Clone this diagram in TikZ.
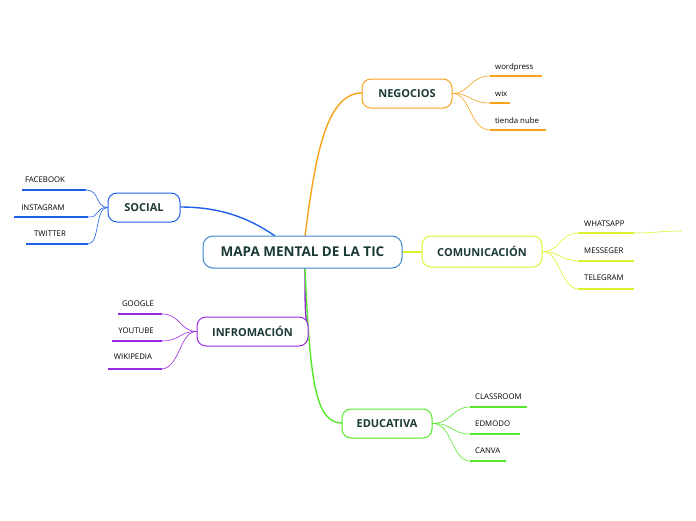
\documentclass[tikz,border=0pt]{standalone}
\usepackage{fontspec}
\setmainfont{Open Sans}
\definecolor{txt}{HTML}{1B3A36}
\definecolor{cneg}{HTML}{F7A21B}
\definecolor{csoc}{HTML}{2060E8}
\definecolor{ccom}{HTML}{DDF22E}
\definecolor{cinf}{HTML}{9A28E0}
\definecolor{cedu}{HTML}{55E82A}
\definecolor{ccen}{HTML}{3A86D0}
\begin{document}
\begin{tikzpicture}[x=1pt,y=-1pt,
  topic/.style={draw=#1,line width=1pt,rounded corners=9pt,fill=white,text=txt,font=\fontsize{11}{13}\selectfont\bfseries,inner sep=0pt},
  leaf/.style={font=\fontsize{7.8}{9}\selectfont,text=black,inner sep=0pt},
  br/.style={draw=#1,line width=1.4pt},
  tw/.style={draw=#1,line width=0.6pt},
  ul/.style={draw=#1,line width=1.4pt}]
\useasboundingbox (0,0) rectangle (696,520);
% branches
\draw[br=cneg] (305,236) .. controls (315,160) and (325,93) .. (362,93);
\draw[br=csoc] (275,236) .. controls (245,215) and (215,207) .. (180,207);
\draw[br=cinf] (305,268) .. controls (305,300) and (305,320) .. (308,331);
\draw[br=cedu] (305,268) .. controls (310,380) and (315,423) .. (342,423);
\draw[br=ccom] (402,252) -- (422,252);
% center
\node[draw=ccen,line width=1pt,rounded corners=10pt,fill=white,text=txt,minimum width=199pt,minimum height=32pt,font=\fontsize{13.5}{15}\selectfont\bfseries] (c) at (302.5,252) {MAPA MENTAL DE LA TIC};
% topics
\node[topic=cneg,minimum width=90pt,minimum height=29pt] (neg) at (407,93.5) {NEGOCIOS};
\node[topic=csoc,minimum width=72pt,minimum height=29pt] (soc) at (144,207.5) {SOCIAL};
\node[topic=ccom,minimum width=120pt,minimum height=31pt] (com) at (482,251.5) {COMUNICACIÓN};
\node[topic=cinf,minimum width=111pt,minimum height=29pt] (inf) at (252.5,331.5) {INFROMACIÓN};
\node[topic=cedu,minimum width=90pt,minimum height=29pt] (edu) at (387,423.5) {EDUCATIVA};
% negocios leaves
\coordinate (n1a) at (490,76);\coordinate (n1b) at (542,76);
\coordinate (n2a) at (490,103);\coordinate (n2b) at (510,103);
\coordinate (n3a) at (490,130);\coordinate (n3b) at (546,130);
\foreach \a/\b/\t/\y in {n1a/n1b/wordpress/67,n2a/n2b/wix/94,n3a/n3b/tienda nube/121}{
  \draw[tw=cneg] (neg.east) .. controls (470,93) and (470,\y+9) .. (\a);
  \draw[ul=cneg] (\a) -- (\b);
  \node[leaf,anchor=west] at (495,\y) {\t};}
% social leaves
\coordinate (s1a) at (86,190);\coordinate (s1b) at (22,190);
\coordinate (s2a) at (88,217);\coordinate (s2b) at (14,217);
\coordinate (s3a) at (88,244);\coordinate (s3b) at (26,244);
\foreach \a/\b/\t/\y/\x in {s1a/s1b/FACEBOOK/180/45,s2a/s2b/INSTAGRAM/208/43,s3a/s3b/TWITTER/234/50}{
  \draw[tw=csoc] (soc.west) .. controls (95,207) and (100,\y+10) .. (\a);
  \draw[ul=csoc] (\a) -- (\b);
  \node[leaf] at (\x,\y) {\t};}
% comunicacion leaves
\coordinate (c1a) at (578,233);\coordinate (c1b) at (634,233);
\coordinate (c2a) at (578,261);\coordinate (c2b) at (634,261);
\coordinate (c3a) at (578,289);\coordinate (c3b) at (634,289);
\coordinate (wx) at (682,231);
\foreach \a/\b/\t/\y in {c1a/c1b/WHATSAPP/224,c2a/c2b/MESSEGER/251,c3a/c3b/TELEGRAM/278}{
  \draw[tw=ccom] (com.east) .. controls (560,252) and (560,\y+9) .. (\a);
  \draw[ul=ccom] (\a) -- (\b);
  \node[leaf,anchor=west] at (584,\y) {\t};}
\draw[tw=ccom] (c1b) .. controls (655,233) and (660,231) .. (wx);
% informacion leaves
\coordinate (i1a) at (162,314);\coordinate (i1b) at (118,314);
\coordinate (i2a) at (162,341);\coordinate (i2b) at (112,341);
\coordinate (i3a) at (162,369);\coordinate (i3b) at (108,369);
\foreach \a/\b/\t/\y/\x in {i1a/i1b/GOOGLE/304/138,i2a/i2b/YOUTUBE/331/136,i3a/i3b/WIKIPEDIA/357/133}{
  \draw[tw=cinf] (inf.west) .. controls (180,331) and (180,\y+10) .. (\a);
  \draw[ul=cinf] (\a) -- (\b);
  \node[leaf] at (\x,\y) {\t};}
% educativa leaves
\coordinate (e1a) at (470,407);\coordinate (e1b) at (527,407);
\coordinate (e2a) at (470,434);\coordinate (e2b) at (520,434);
\coordinate (e3a) at (470,461);\coordinate (e3b) at (506,461);
\foreach \a/\b/\t/\y in {e1a/e1b/CLASSROOM/397,e2a/e2b/EDMODO/424,e3a/e3b/CANVA/451}{
  \draw[tw=cedu] (edu.east) .. controls (452,423) and (452,\y+10) .. (\a);
  \draw[ul=cedu] (\a) -- (\b);
  \node[leaf,anchor=west] at (475,\y) {\t};}
\end{tikzpicture}
\end{document}
